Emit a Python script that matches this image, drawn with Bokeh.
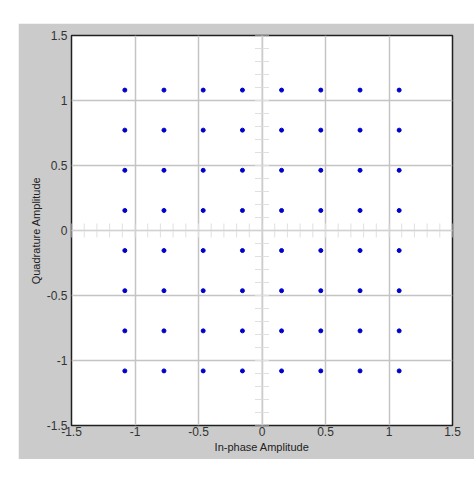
import numpy as np
from bokeh.plotting import figure
from bokeh.models import Span, FixedTicker, ColumnDataSource
from bokeh.embed import file_html
from bokeh.resources import INLINE

# 64-QAM constellation levels (in-phase and quadrature)
i_levels = [-1.08, -0.772, -0.463, -0.154, 0.154, 0.463, 0.772, 1.08]
q_levels = [-1.08, -0.772, -0.463, -0.154, 0.154, 0.463, 0.772, 1.08]
major_ticks = [-1.5, -1.0, -0.5, 0.0, 0.5, 1.0, 1.5]
tick_labels = {-1.5: "-1.5", -1.0: "-1", -0.5: "-0.5", 0.0: "0", 0.5: "0.5", 1.0: "1", 1.5: "1.5"}
center_ticks = [round(k * 0.1, 1) for k in range(-15, 16)]

xs = [i for i in i_levels for q in q_levels]
ys = [q for i in i_levels for q in q_levels]
src = ColumnDataSource(dict(x=xs, y=ys))

FONT = "Liberation Sans"
BG = "#cbcbcb"

p = figure(width=456, height=436, x_range=(-1.5, 1.5), y_range=(-1.5, 1.5),
           output_backend="svg", toolbar_location=None,
           min_border_left=53, min_border_right=22, min_border_top=12, min_border_bottom=34,
           background_fill_color="white", border_fill_color=BG)
p.styles = {"margin-left": "18px", "margin-top": "23px"}
p.outline_line_color = "#202020"
p.outline_line_width = 1.5

for ax, lab in ((p.xaxis[0], "In-phase Amplitude"), (p.yaxis[0], "Quadrature Amplitude")):
    ax.ticker = FixedTicker(ticks=major_ticks)
    ax.major_label_overrides = tick_labels
    ax.axis_label = lab
    ax.axis_label_text_font = FONT
    ax.axis_label_text_font_style = "normal"
    ax.axis_label_text_font_size = "11px"
    ax.axis_label_text_color = "#222222"
    ax.major_label_text_font = FONT
    ax.major_label_text_font_size = "12px"
    ax.major_label_text_color = "#333333"
    ax.major_tick_in = 0
    ax.major_tick_out = 0
    ax.minor_tick_in = 0
    ax.minor_tick_out = 0
    ax.axis_line_color = None
p.xaxis.major_label_standoff = 1
p.xaxis.axis_label_standoff = 2
p.yaxis.major_label_standoff = 4
p.yaxis.axis_label_standoff = 2

for g in (p.xgrid[0], p.ygrid[0]):
    g.ticker = FixedTicker(ticks=major_ticks)
    g.grid_line_color = "#c4c4c4"
    g.grid_line_width = 1.5

p.add_layout(Span(location=0, dimension="height", line_color="#d2d2d2", line_width=1))
p.add_layout(Span(location=0, dimension="width", line_color="#d2d2d2", line_width=1))

zeros = [0.0] * len(center_ticks)
p.scatter(x=zeros, y=center_ticks, marker="dash", size=14, line_color="#e0e0e0", line_width=1)
p.scatter(x=center_ticks, y=zeros, marker="dash", angle=np.pi / 2, size=14,
          line_color="#e0e0e0", line_width=1)

p.scatter("x", "y", source=src, size=4, marker="circle", fill_color="#0000cc", line_color="#0000cc")

open("out.html", "w").write(file_html(p, INLINE))
